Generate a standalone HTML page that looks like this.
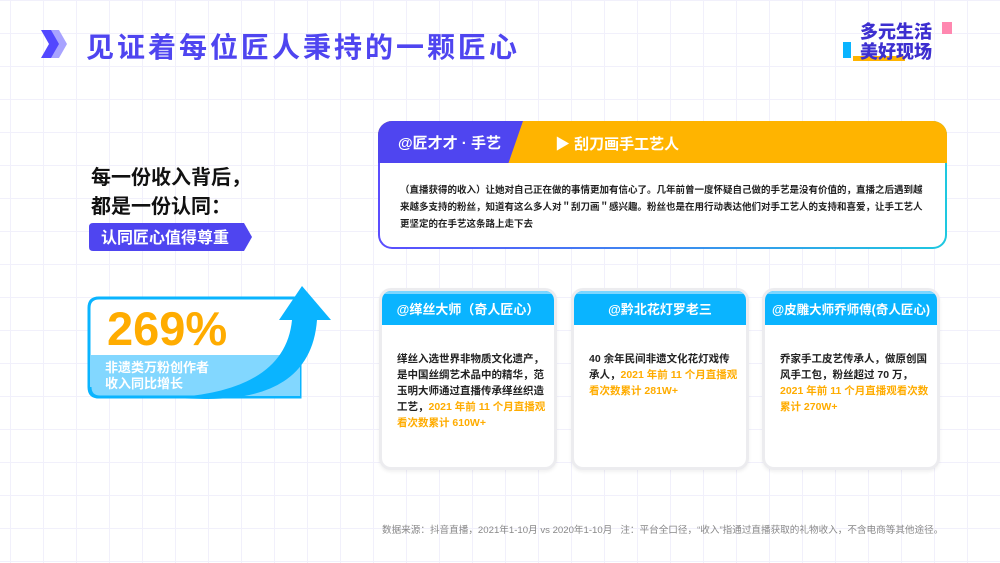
<!DOCTYPE html>
<html><head><meta charset="utf-8"><style>
*{margin:0;padding:0;box-sizing:border-box}
body{width:1000px;height:563px;position:relative;overflow:hidden;background:#fff;font-family:"Liberation Sans","Noto Sans CJK SC",sans-serif;
background-image:linear-gradient(#f1f0fb 1px,transparent 1px),linear-gradient(90deg,#f1f0fb 1px,transparent 1px);background-size:33px 33px;background-position:10px 0}
.a{position:absolute}
.card{position:absolute;top:288px;width:178px;height:182px;background:#fff;border:3px solid #ececef;border-radius:12px;overflow:hidden;box-shadow:0 2px 3px rgba(0,0,0,.06)}
.card .h{height:34px;background:#0ab4ff;color:#fff;font-weight:bold;font-size:13px;text-align:center;line-height:32px;border-top:3px solid #7cd6ff;white-space:nowrap}
.card .t{padding:26px 0 0 15px;font-size:10.5px;font-weight:bold;line-height:16px;color:#222;width:166px}
.o{color:#ffac00}
</style></head><body>
<svg class="a" style="left:41px;top:30px" width="30" height="28"><polygon points="0,0 12,0 20,14 12,28 0,28 8,14" fill="#5247ff"/><polygon points="10,0 18,0 26,14 18,28 10,28 18,14" fill="#a8a3ff"/></svg>
<div class="a" style="left:86px;top:26px;font-size:28px;font-weight:bold;color:#4f45f0;letter-spacing:3px">见证着每位匠人秉持的一颗匠心</div>
<div class="a" style="left:942px;top:22px;width:10px;height:12px;background:#ff88b0"></div>
<div class="a" style="left:843px;top:42px;width:8px;height:16px;background:#0ab4ff"></div>
<div class="a" style="left:853px;top:56px;width:52px;height:5px;background:#ffb400"></div>
<div class="a" style="left:860px;top:22px;font-size:18px;font-weight:900;color:#3d2fd0;line-height:20px">多元生活<br>美好现场</div>

<div class="a" style="left:91px;top:164px;font-size:20px;font-weight:bold;color:#111;line-height:29px">每一份收入背后，<br>都是一份认同：</div>
<svg class="a" style="left:89px;top:223px" width="165" height="28"><path d="M4 0H155L163 14L155 28H4Q0 28 0 24V4Q0 0 4 0Z" fill="#4f45f0"/><text x="12" y="20" fill="#fff" font-size="16" font-weight="bold" font-family="Liberation Sans,Noto Sans CJK SC,sans-serif">认同匠心值得尊重</text></svg>

<svg class="a" style="left:85px;top:283px" width="250" height="118">
<path d="M14 15H215V114H14Q4 114 4 104V25Q4 15 14 15Z" fill="#fff" stroke="#0ab4ff" stroke-width="3"/>
<path d="M5 72H215V113H14Q5 113 5 104Z" fill="#82d7ff"/>
<path d="M80 115Q200 110 207 37L194 37L217 3L246 37L232 37Q226 117 120 116Z" fill="#0ab4ff"/>
<path d="M5 104Q5 114 15 114H150" fill="none" stroke="#0ab4ff" stroke-width="3"/>
<text x="22" y="62" fill="#ffac00" font-size="47" font-weight="bold" font-family="Liberation Sans,sans-serif">269%</text>
<text x="20" y="89" fill="#fff" font-size="13" font-weight="bold" font-family="Liberation Sans,Noto Sans CJK SC,sans-serif">非遗类万粉创作者</text>
<text x="20" y="105" fill="#fff" font-size="13" font-weight="bold" font-family="Liberation Sans,Noto Sans CJK SC,sans-serif">收入同比增长</text>
</svg>

<div class="a" style="left:378px;top:121px;width:569px;height:128px;border-radius:14px;background:linear-gradient(90deg,#5b4dff,#1ec8e0);padding:2px">
<div style="width:100%;height:100%;background:#fff;border-radius:12px"></div></div>
<div class="a" style="left:378px;top:121px;width:569px;height:42px;border-radius:14px 14px 0 0;background:#ffb400;overflow:hidden">
<div class="a" style="left:0;top:0;width:145px;height:42px;background:#4f45f0;clip-path:polygon(0 0,100% 0,90% 100%,0 100%)"></div>
<div class="a" style="left:20px;top:11px;color:#fff;font-size:15px;font-weight:bold">@匠才才 · 手艺</div>
<div class="a" style="left:177px;top:12px;color:#fff;font-size:15px;font-weight:bold">▶ 刮刀画手工艺人</div>
</div>
<div class="a" style="left:400px;top:182px;width:525px;font-size:9.5px;font-weight:bold;line-height:17px;color:#222">（直播获得的收入）让她对自己正在做的事情更加有信心了。几年前曾一度怀疑自己做的手艺是没有价值的，直播之后遇到越来越多支持的粉丝，知道有这么多人对＂刮刀画＂感兴趣。粉丝也是在用行动表达他们对手工艺人的支持和喜爱，让手工艺人更坚定的在手艺这条路上走下去</div>

<div class="card" style="left:379px"><div class="h">@缂丝大师（奇人匠心）</div><div class="t">缂丝入选世界非物质文化遗产，是中国丝绸艺术品中的精华，范玉明大师通过直播传承缂丝织造工艺，<span class="o">2021 年前 11 个月直播观看次数累计 610W+</span></div></div>
<div class="card" style="left:571px"><div class="h">@黔北花灯罗老三</div><div class="t">40 余年民间非遗文化花灯戏传承人，<span class="o">2021 年前 11 个月直播观看次数累计 281W+</span></div></div>
<div class="card" style="left:762px"><div class="h" style="font-size:12.5px">@皮雕大师乔师傅(奇人匠心)</div><div class="t">乔家手工皮艺传承人，做原创国风手工包，粉丝超过 70 万，<br><span class="o">2021 年前 11 个月直播观看次数累计 270W+</span></div></div>

<div class="a" style="left:382px;top:522px;font-size:9.6px;color:#888;white-space:nowrap">数据来源：抖音直播，2021年1-10月 vs 2020年1-10月 &nbsp;&nbsp;注：平台全口径，“收入”指通过直播获取的礼物收入，不含电商等其他途径。</div>
</body></html>
